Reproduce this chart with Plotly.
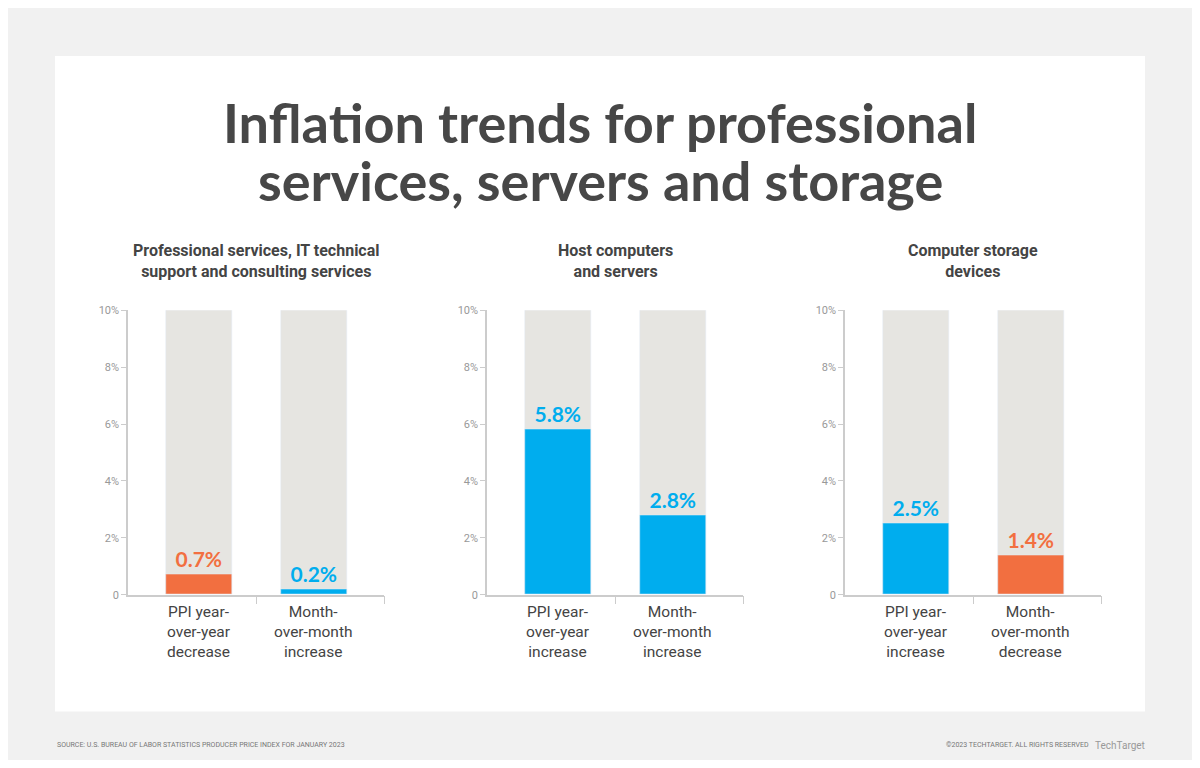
import plotly.graph_objects as go

panels = ["Professional services, IT technical<br>support and consulting services",
          "Host computers<br>and servers",
          "Computer storage<br>devices"]
categories = [["PPI year-<br>over-year<br>decrease", "Month-<br>over-month<br>increase"],
              ["PPI year-<br>over-year<br>increase", "Month-<br>over-month<br>increase"],
              ["PPI year-<br>over-year<br>increase", "Month-<br>over-month<br>decrease"]]
values = [[0.7, 0.2], [5.8, 2.8], [2.5, 1.4]]
colors = [["#f26f40", "#00adee"], ["#00adee", "#00adee"], ["#00adee", "#f26f40"]]
ymax = 10
tickvals = [0, 2, 4, 6, 8, 10]
ticktext = ["0", "2%", "4%", "6%", "8%", "10%"]
title_lines = ["Inflation trends for professional", "services, servers and storage"]

W, H = 1184, 752
OFF = 8
def px(v): return (v - OFF) / W
def py(v):
    t = (v - 13.0) / 0.985
    return 1 - t / H

axis_left = [128, 487, 845]
ybot, ytop = py(595), py(310)
xr = [-0.617, 1.609]
span = 256

fig = go.Figure()
for i in range(3):
    xa = "x" if i == 0 else f"x{i+1}"
    ya = "y" if i == 0 else f"y{i+1}"
    fig.add_trace(go.Bar(x=[0, 1], y=[ymax, ymax], marker_color="#e6e5e1", width=0.574,
                         xaxis=xa, yaxis=ya, hoverinfo="skip"))
    fig.add_trace(go.Bar(x=[0, 1], y=values[i], marker_color=colors[i], width=0.574,
                         xaxis=xa, yaxis=ya, text=[f"<b>{v}%</b>" for v in values[i]],
                         textposition="outside", cliponaxis=False,
                         textfont=dict(family="Lato", size=21, color=colors[i])))
    d0 = px(axis_left[i])
    d1 = px(axis_left[i] + span)
    fig.layout[f"xaxis{'' if i == 0 else i+1}"] = dict(
        domain=[d0, d1], range=xr, anchor=ya, showgrid=False, zeroline=False,
        showline=True, linecolor="#cccccc", linewidth=1.5, ticks="outside",
        tickvals=[0.5, xr[1]], ticktext=["", ""], tickcolor="#cccccc", ticklen=8,
        fixedrange=True)
    fig.layout[f"yaxis{'' if i == 0 else i+1}"] = dict(
        domain=[ybot, ytop], range=[0, ymax], anchor=xa, showgrid=False, zeroline=False,
        showline=True, linecolor="#cccccc", linewidth=1.5, ticks="outside",
        tickvals=tickvals, ticktext=ticktext, tickcolor="#cccccc", ticklen=5,
        tickfont=dict(family="Roboto", size=11, color="#999999"), fixedrange=True)
    cx = px(axis_left[i] + span / 2)
    fig.add_annotation(text=f"<b>{panels[i]}</b>", x=cx, y=py(261), xref="paper", yref="paper",
                       xanchor="center", yanchor="middle", showarrow=False,
                       font=dict(family="Roboto", size=16, color="#444444"))
    for j in range(2):
        fig.add_annotation(text=categories[i][j], x=j, xref=xa, y=py(632), yref="paper",
                           xanchor="center", yanchor="middle", showarrow=False,
                           font=dict(family="Roboto", size=15.5, color="#444444"))

fig.add_shape(type="rect", xref="paper", yref="paper", x0=px(55), x1=px(1145),
              y0=py(712), y1=py(55), fillcolor="white", line_width=0, layer="below")
for k, ty in enumerate([122, 180]):
    fig.add_annotation(text=f"<b>{title_lines[k]}</b>",
                       x=px(600), y=py(ty), xref="paper", yref="paper", xanchor="center",
                       yanchor="middle", showarrow=False,
                       font=dict(family="Lato", size=54, color="#474747"))
fig.add_annotation(text="SOURCE: U.S. BUREAU OF LABOR STATISTICS PRODUCER PRICE INDEX FOR JANUARY 2023",
                   x=px(55), y=py(746), xref="paper", yref="paper", xanchor="left", yanchor="middle",
                   showarrow=False, font=dict(family="Roboto", size=7, color="#777777"))
fig.add_annotation(text="©2023 TECHTARGET. ALL RIGHTS RESERVED",
                   x=px(1091), y=py(746), xref="paper", yref="paper", xanchor="right", yanchor="middle",
                   showarrow=False, font=dict(family="Roboto", size=7, color="#777777"))
fig.add_annotation(text="TechTarget", x=px(1147), y=py(746), xref="paper", yref="paper",
                   xanchor="right", yanchor="middle", showarrow=False,
                   font=dict(family="Roboto", size=10, color="#999999"))

fig.update_layout(width=W, height=H, margin=dict(l=0, r=0, t=0, b=0), barmode="overlay",
                  showlegend=False, paper_bgcolor="#f1f1f1", plot_bgcolor="rgba(0,0,0,0)",
                  bargap=0)
fig.write_html("out.html", config={"displayModeBar": False})
